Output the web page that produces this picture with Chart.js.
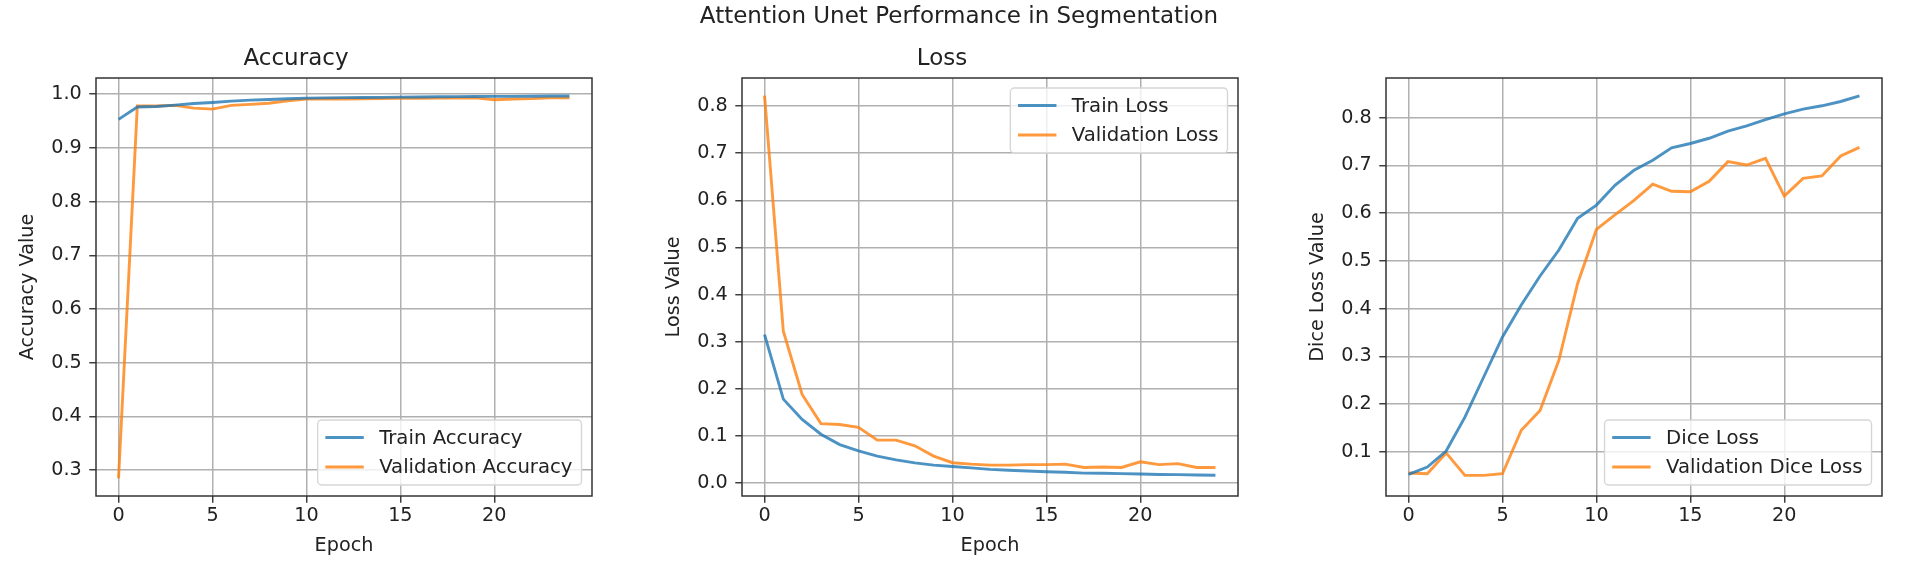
<!DOCTYPE html>
<html lang="en">
<head>
<meta charset="UTF-8">
<title>Attention Unet Performance in Segmentation</title>
<script src="https://cdn.jsdelivr.net/npm/chart.js"></script>
<style>
  html, body { margin: 0; padding: 0; background: #fff; }
  body { width: 1928px; height: 580px; position: relative; overflow: hidden; }
  .panel { position: absolute; top: 0; width: 620px; height: 580px; }
</style>
</head>
<body>
<div class="panel" style="left:0px"><canvas id="accChart" width="620" height="580"></canvas></div>
<div class="panel" style="left:646px"><canvas id="lossChart" width="620" height="580"></canvas></div>
<div class="panel" style="left:1290px"><canvas id="diceChart" width="620" height="580"></canvas></div>

<script>
// values
const epochs = [0, 1, 2, 3, 4, 5, 6, 7, 8, 9, 10, 11, 12, 13, 14, 15, 16, 17, 18, 19, 20, 21, 22, 23, 24];

const trainAcc = [0.953, 0.976, 0.977, 0.9795, 0.9826, 0.9845, 0.987, 0.9888, 0.990, 0.9913, 0.9925, 0.993, 0.9935,
                  0.9938, 0.994, 0.9944, 0.9947, 0.995, 0.9953, 0.9956, 0.9958, 0.9958, 0.9961, 0.9964, 0.9964];
const valAcc = [0.285, 0.978, 0.978, 0.979, 0.974, 0.972, 0.979, 0.981, 0.983, 0.9876, 0.9907, 0.991, 0.991,
                0.9913, 0.9916, 0.992, 0.9922, 0.9925, 0.9925, 0.993, 0.9895, 0.991, 0.9916, 0.993, 0.993];

const trainLoss = [0.315, 0.178, 0.135, 0.1035, 0.0816, 0.068, 0.057, 0.049, 0.0426, 0.038, 0.035, 0.032, 0.029,
                   0.027, 0.0255, 0.024, 0.0227, 0.021, 0.0206, 0.0199, 0.019, 0.018, 0.0177, 0.017, 0.0163];
const valLoss = [0.822, 0.322, 0.188, 0.126, 0.124, 0.118, 0.091, 0.091, 0.079, 0.057, 0.043, 0.040, 0.038,
                 0.038, 0.039, 0.039, 0.040, 0.033, 0.034, 0.033, 0.045, 0.039, 0.041, 0.033, 0.033];

const diceLoss = [0.053, 0.0685, 0.102, 0.173, 0.257, 0.341, 0.408, 0.4685, 0.523, 0.5895, 0.617, 0.659, 0.690,
                  0.711, 0.737, 0.746, 0.757, 0.772, 0.783, 0.796, 0.808, 0.818, 0.825, 0.834, 0.846];
const valDiceLoss = [0.056, 0.0545, 0.098, 0.051, 0.051, 0.0545, 0.1455, 0.187, 0.292, 0.453, 0.566, 0.597, 0.627,
                     0.661, 0.646, 0.645, 0.667, 0.708, 0.701, 0.715, 0.636, 0.673, 0.678, 0.720, 0.738];

// tick labels
const epochTicks = [0, 5, 10, 15, 20];
const accTicks = [0.3, 0.4, 0.5, 0.6, 0.7, 0.8, 0.9, 1.0];
const lossTicks = [0.0, 0.1, 0.2, 0.3, 0.4, 0.5, 0.6, 0.7, 0.8];
const diceTicks = [0.1, 0.2, 0.3, 0.4, 0.5, 0.6, 0.7, 0.8];

const BLUE = 'rgba(31, 119, 180, 0.8)';
const ORANGE = 'rgba(255, 127, 14, 0.8)';
const FONT = "'DejaVu Sans', sans-serif";
const INK = '#222';

Chart.defaults.font.family = FONT;
Chart.defaults.color = INK;

function series(values) {
    return epochs.map((e, i) => ({ x: e, y: values[i] }));
}

// box around the plot area (all four spines)
const framePlugin = {
    id: 'frame',
    afterDatasetsDraw(chart) {
        const { ctx, chartArea: a } = chart;
        ctx.save();
        ctx.strokeStyle = '#333';
        ctx.lineWidth = 1.5;
        ctx.strokeRect(a.left, a.top, a.right - a.left, a.bottom - a.top);
        ctx.restore();
    }
};

// legend drawn inside the plot area, like matplotlib's "best" spot
const boxLegend = {
    id: 'boxLegend',
    afterDraw(chart, args, opts) {
        const { ctx, chartArea: a } = chart;
        const sets = chart.data.datasets;
        ctx.save();
        ctx.font = '19.7px ' + FONT;
        const textW = Math.max(...sets.map(d => ctx.measureText(d.label).width));
        const w = 7.7 + 38.4 + 15.4 + textW + 9;
        const h = 65;
        const x = a.right - 10.5 - w;
        const y = opts.corner === 'upper' ? a.top + 10 : a.bottom - 11 - h;

        ctx.beginPath();
        if (ctx.roundRect) ctx.roundRect(x, y, w, h, 4); else ctx.rect(x, y, w, h);
        ctx.fillStyle = 'rgba(255,255,255,0.8)';
        ctx.fill();
        ctx.strokeStyle = '#d6d6d6';
        ctx.lineWidth = 1.4;
        ctx.stroke();

        sets.forEach((d, i) => {
            const ry = y + 17.5 + i * 29.5;
            ctx.beginPath();
            ctx.moveTo(x + 7.7, ry);
            ctx.lineTo(x + 7.7 + 38.4, ry);
            ctx.strokeStyle = d.borderColor;
            ctx.lineWidth = 2.9;
            ctx.stroke();
            ctx.fillStyle = INK;
            ctx.textAlign = 'left';
            ctx.textBaseline = 'middle';
            ctx.fillText(d.label, x + 7.7 + 38.4 + 15.4, ry + 1);
        });
        ctx.restore();
    }
};

// figure title, centred on the whole figure (drawn on the middle chart)
const supTitle = {
    id: 'supTitle',
    afterDraw(chart, args, opts) {
        const { ctx } = chart;
        ctx.save();
        ctx.font = '23px ' + FONT;
        ctx.fillStyle = INK;
        ctx.textAlign = 'center';
        ctx.textBaseline = 'alphabetic';
        ctx.fillText(opts.text, opts.x, 23);
        ctx.restore();
    }
};

function makePanel(id, cfg) {
    const ctx = document.getElementById(id).getContext('2d');
    return new Chart(ctx, {
        type: 'line',
        data: {
            datasets: [
                { label: cfg.labels[0], data: series(cfg.a), borderColor: BLUE, backgroundColor: BLUE,
                  borderWidth: 2.9, pointRadius: 0, tension: 0, fill: false },
                { label: cfg.labels[1], data: series(cfg.b), borderColor: ORANGE, backgroundColor: ORANGE,
                  borderWidth: 2.9, pointRadius: 0, tension: 0, fill: false }
            ]
        },
        options: {
            responsive: false,
            animation: false,
            layout: { padding: { top: cfg.title ? 0 : 78, left: 0, right: 28, bottom: 0 } },
            plugins: {
                legend: { display: false },
                tooltip: { enabled: false },
                title: {
                    display: !!cfg.title,
                    text: cfg.title || '',
                    color: INK,
                    font: { size: 23, weight: 'normal' },
                    padding: { top: 45.7, bottom: 4.7 }
                },
                boxLegend: { corner: cfg.corner },
                supTitle: cfg.supTitle || {}
            },
            scales: {
                x: {
                    type: 'linear',
                    min: -1.2,
                    max: 25.2,
                    afterBuildTicks: s => { s.ticks = epochTicks.map(v => ({ value: v })); },
                    afterFit: s => { s.height = 84; },
                    ticks: { font: { size: 19.2 }, color: INK, padding: 2, maxRotation: 0,
                             callback: v => String(v) },
                    grid: { color: '#b0b0b0', lineWidth: 1.5, tickColor: '#333', tickLength: 6.7, tickWidth: 1.4 },
                    border: { display: false },
                    title: { display: !!cfg.xTitle, text: cfg.xTitle || '', color: INK,
                             font: { size: 19.2 }, padding: { top: 0, bottom: 22 } }
                },
                y: {
                    type: 'linear',
                    min: cfg.yMin,
                    max: cfg.yMax,
                    afterBuildTicks: s => { s.ticks = cfg.yTicks.map(v => ({ value: v })); },
                    afterFit: s => { s.width = 96; },
                    ticks: { font: { size: 19.2 }, color: INK, padding: 7.5,
                             callback: v => Number(v).toFixed(1) },
                    grid: { color: '#b0b0b0', lineWidth: 1.5, tickColor: '#333', tickLength: 6.7, tickWidth: 1.4 },
                    border: { display: false },
                    title: { display: true, text: cfg.yTitle, color: INK,
                             font: { size: 19.2 }, padding: { top: 16.5, bottom: 0 } }
                }
            }
        },
        plugins: cfg.supTitle ? [framePlugin, boxLegend, supTitle] : [framePlugin, boxLegend]
    });
}

makePanel('accChart', {
    title: 'Accuracy',
    labels: ['Train Accuracy', 'Validation Accuracy'],
    a: trainAcc, b: valAcc,
    yMin: 0.252, yMax: 1.030, yTicks: accTicks,
    yTitle: 'Accuracy Value', xTitle: 'Epoch',
    corner: 'lower'
});

makePanel('lossChart', {
    title: 'Loss',
    labels: ['Train Loss', 'Validation Loss'],
    a: trainLoss, b: valLoss,
    yMin: -0.0276, yMax: 0.8595, yTicks: lossTicks,
    yTitle: 'Loss Value', xTitle: 'Epoch',
    corner: 'upper',
    supTitle: { text: 'Attention Unet Performance in Segmentation', x: 959 - 646 }
});

makePanel('diceChart', {
    title: null,
    labels: ['Dice Loss', 'Validation Dice Loss'],
    a: diceLoss, b: valDiceLoss,
    yMin: 0.0078, yMax: 0.8832, yTicks: diceTicks,
    yTitle: 'Dice Loss Value', xTitle: null,
    corner: 'lower'
});
</script>
</body>
</html>
